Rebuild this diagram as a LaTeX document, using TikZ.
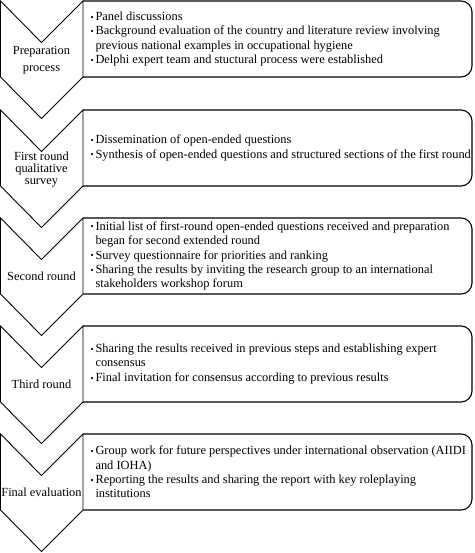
\documentclass[tikz,border=0pt]{standalone}
\usepackage{fontspec}
\setmainfont{Liberation Serif}
\newcommand{\bul}{\makebox[4.8pt][l]{\raisebox{0.3pt}{\fontsize{9}{9}\selectfont •}}}
\newcommand{\ind}{\hspace*{4.8pt}}
\begin{document}
\begin{tikzpicture}[x=1pt,y=-1pt,
  chev/.style={draw=black,line width=0.9pt,fill=white,line join=miter},
  frame/.style={draw=black,line width=1.1pt,rounded corners=11pt},
  lab/.style={align=center,font=\fontsize{12.4}{14.5}\selectfont,inner sep=0pt},
  txt/.style={align=left,anchor=west,font=\fontsize{12.4}{14.4}\selectfont,inner sep=0pt}]
\useasboundingbox[fill=white] (0,0) rectangle (474,553);
\foreach \T in {1,110,218,326,434}{
  \draw[chev] (0.5,\T) -- ({41.5},{\T+41.5}) -- (83,\T) -- (83,{\T+76}) -- ({41.5},{\T+117.5}) -- (0.5,{\T+76}) -- cycle;
  \draw[frame] (83,\T) -- (472,\T) -- (472,{\T+76}) -- (83,{\T+76});
}
\node[lab,font=\fontsize{12.4}{17}\selectfont] (l1) at (41.5,60.6) {Preparation\\process};
\node[lab,font=\fontsize{12.4}{12}\selectfont] (l2) at (41.5,169.3) {First round\\qualitative\\survey};
\node[lab] (l3) at (41.5,276.75) {Second round};
\node[lab] (l4) at (41.5,384.75) {Third round};
\node[lab] (l5) at (41.5,492.75) {Final evaluation};
\node[txt] (t1) at (90.5,39) {\bul Panel discussions\\
\bul Background evaluation of the country and literature review involving\\
\ind previous national examples in occupational hygiene\\
\bul Delphi expert team and stuctural process were established};
\node[txt] (t2) at (90.5,148) {\bul Dissemination of open-ended questions\\
\bul Synthesis of open-ended questions and structured sections of the first round};
\node[txt] (t3) at (90.5,256) {\bul Initial list of first-round open-ended questions received and preparation\\
\ind began for second extended round\\
\bul Survey questionnaire for priorities and ranking\\
\bul Sharing the results by inviting the research group to an international\\
\ind stakeholders workshop forum};
\node[txt] (t4) at (90.5,364) {\bul Sharing the results received in previous steps and establishing expert\\
\ind consensus\\
\bul Final invitation for consensus according to previous results};
\node[txt] (t5) at (90.5,472) {\bul Group work for future perspectives under international observation (AIIDI\\
\ind and IOHA)\\
\bul Reporting the results and sharing the report with key roleplaying\\
\ind institutions};
\end{tikzpicture}
\end{document}
